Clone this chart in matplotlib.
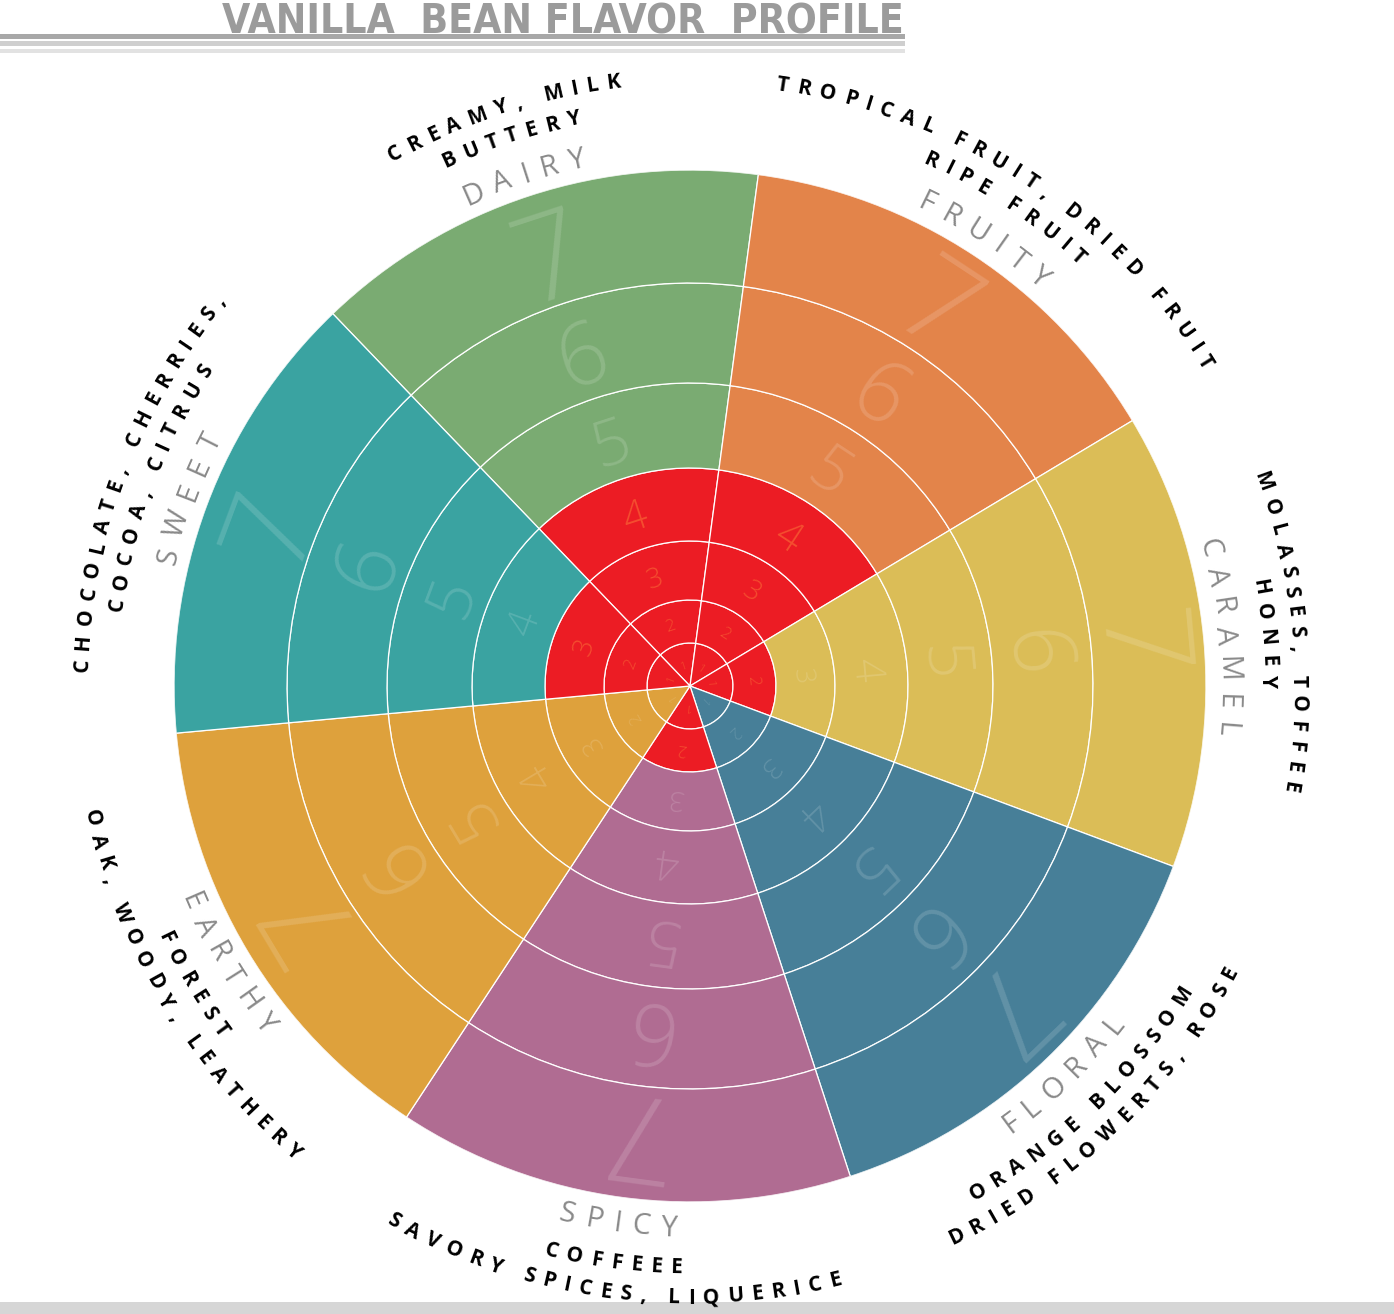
import numpy as np
import matplotlib
matplotlib.use("Agg")
import matplotlib.pyplot as plt
from matplotlib.font_manager import FontProperties

# ---------------- data ----------------
title = "VANILLA  BEAN FLAVOR  PROFILE"
categories = ["DAIRY", "FRUITY", "CARAMEL", "FLORAL", "SPICY", "EARTHY", "SWEET"]
scores = [4, 4, 2, 0, 2, 0, 3]
levels = [1, 2, 3, 4, 5, 6, 7]
notes_near = ["BUTTERY", "RIPE FRUIT", "HONEY", "ORANGE BLOSSOM",
              "COFFEEE", "FOREST", "COCOA, CITRUS"]
notes_far = ["CREAMY, MILK", "TROPICAL FRUIT, DRIED FRUIT", "MOLASSES, TOFFEE",
             "DRIED FLOWERTS, ROSE", "SAVORY SPICES, LIQUERICE",
             "OAK, WOODY, LEATHERY", "CHOCOLATE, CHERRIES,"]

# ---------------- style / layout ----------------
W, H, DPI = 1394, 1314, 100
CX, CY = 690, 686                      # chart centre in pixels (from top-left)
ring_edges_px = [0, 43, 86, 145, 218, 303, 403, 516]   # radial scale of the rings
first_center_deg = 108.1
sector_colors = ["#7aab72", "#e3844a", "#dbbd57", "#477f98",
                 "#b06c92", "#dea13c", "#3aa3a1"]
score_color = "#ec1c24"
label_gray = "#8a8a8a"
num_sizes = [8, 12, 20, 30, 47, 62, 88]

fig = plt.figure(figsize=(W / DPI, H / DPI), dpi=DPI)
fig.patch.set_facecolor("white")

# overlay axes in pixel coordinates for title and curved labels
ov = fig.add_axes([0, 0, 1, 1])
ov.set_xlim(0, W)
ov.set_ylim(H, 0)
ov.set_axis_off()

# polar chart
R = ring_edges_px[-1]
ax = fig.add_axes([(CX - R) / W, 1 - (CY + R) / H, 2 * R / W, 2 * R / H],
                  projection="polar")
lvl_edges = np.arange(len(ring_edges_px), dtype=float)


def fwd(v):
    return np.interp(v, lvl_edges, ring_edges_px)


def inv(r):
    return np.interp(r, ring_edges_px, lvl_edges)


ax.set_rscale("function", functions=(fwd, inv))

n = len(categories)
step = 2 * np.pi / n
thetas = np.radians(first_center_deg) - step * np.arange(n)

for lv in levels:
    cols = [score_color if lv <= s else c for s, c in zip(scores, sector_colors)]
    ax.bar(thetas, 1, width=step, bottom=lv - 1, color=cols,
           edgecolor="white", linewidth=0.9)
ax.set_ylim(0, levels[-1])
ax.set_axis_off()

num_fp_family = ["Open Sans", "DejaVu Sans"]
for i, th in enumerate(thetas):
    for lv in levels:
        red = lv <= scores[i]
        ax.text(th, lv - 0.5, str(lv), rotation=np.degrees(th) - 90,
                rotation_mode="anchor", ha="center", va="center_baseline",
                fontsize=num_sizes[lv - 1], family=num_fp_family, weight="light",
                color="#ff8a3d" if red else "white",
                alpha=0.45 if red else 0.15)

renderer = fig.canvas.get_renderer()

# ---------------- title ----------------
for y0, y1, c in [(33.5, 38.5, "#a8a8a8"), (41, 46, "#cfcfcf"), (48.5, 53, "#e2e2e2")]:
    ov.axhspan(y0, y1, xmin=0, xmax=905 / W, color=c, lw=0, zorder=1)
title_fp = FontProperties(family=["Liberation Sans Narrow", "DejaVu Sans"],
                          weight="bold", stretch="condensed", size=32)
tw = renderer.get_text_width_height_descent(title, title_fp, ismath=False)[0]
title_fp.set_size(32 * 681.0 / tw)
ov.text(222, 34, title, fontproperties=title_fp, color="#9b9b9b",
        ha="left", va="baseline", zorder=2)

# bottom screenshot strip
ov.axhspan(1302, H, color="#d6d6d6", lw=0)

# ---------------- curved labels ----------------


def adv(ch, fp):
    w1 = renderer.get_text_width_height_descent("H" + ch + "H", fp, ismath=False)[0]
    w0 = renderer.get_text_width_height_descent("HH", fp, ismath=False)[0]
    return w1 - w0


def arc_text(s, theta_deg, r_mid, fp, color, track, cw, cap):
    th0 = np.radians(theta_deg)
    advs = [adv(c, fp) for c in s]
    total = sum(advs) + track * (len(s) - 1)
    rb = r_mid - cap / 2 if cw else r_mid + cap / 2
    pos = 0.0
    for c, a in zip(s, advs):
        p = pos + a / 2 - total / 2
        pos += a + track
        if c == " ":
            continue
        if cw:
            th = th0 - p / rb
            rot = np.degrees(th) - 90
        else:
            th = th0 + p / rb
            rot = np.degrees(th) + 90
        x = CX + rb * np.cos(th)
        y = CY - rb * np.sin(th)
        ov.text(x, y, c, fontproperties=fp, color=color, rotation=rot,
                rotation_mode="anchor", ha="center", va="baseline")


fp_gray = FontProperties(family=["Open Sans", "DejaVu Sans"], weight="normal", size=21)
fp_black = FontProperties(family=["Open Sans", "DejaVu Sans"], weight="bold", size=15)

for i, cat in enumerate(categories):
    deg = np.degrees(thetas[i])
    deg = (deg + 180) % 360 - 180
    cw = deg > -25
    arc_text(cat, deg, 540, fp_gray, label_gray, 11, cw, 21)
    arc_text(notes_near[i], deg, 580, fp_black, "black", 8.5, cw, 15)
    arc_text(notes_far[i], deg, 610, fp_black, "black", 8.5, cw, 15)

fig.savefig("out.png", dpi=DPI, facecolor="white")
